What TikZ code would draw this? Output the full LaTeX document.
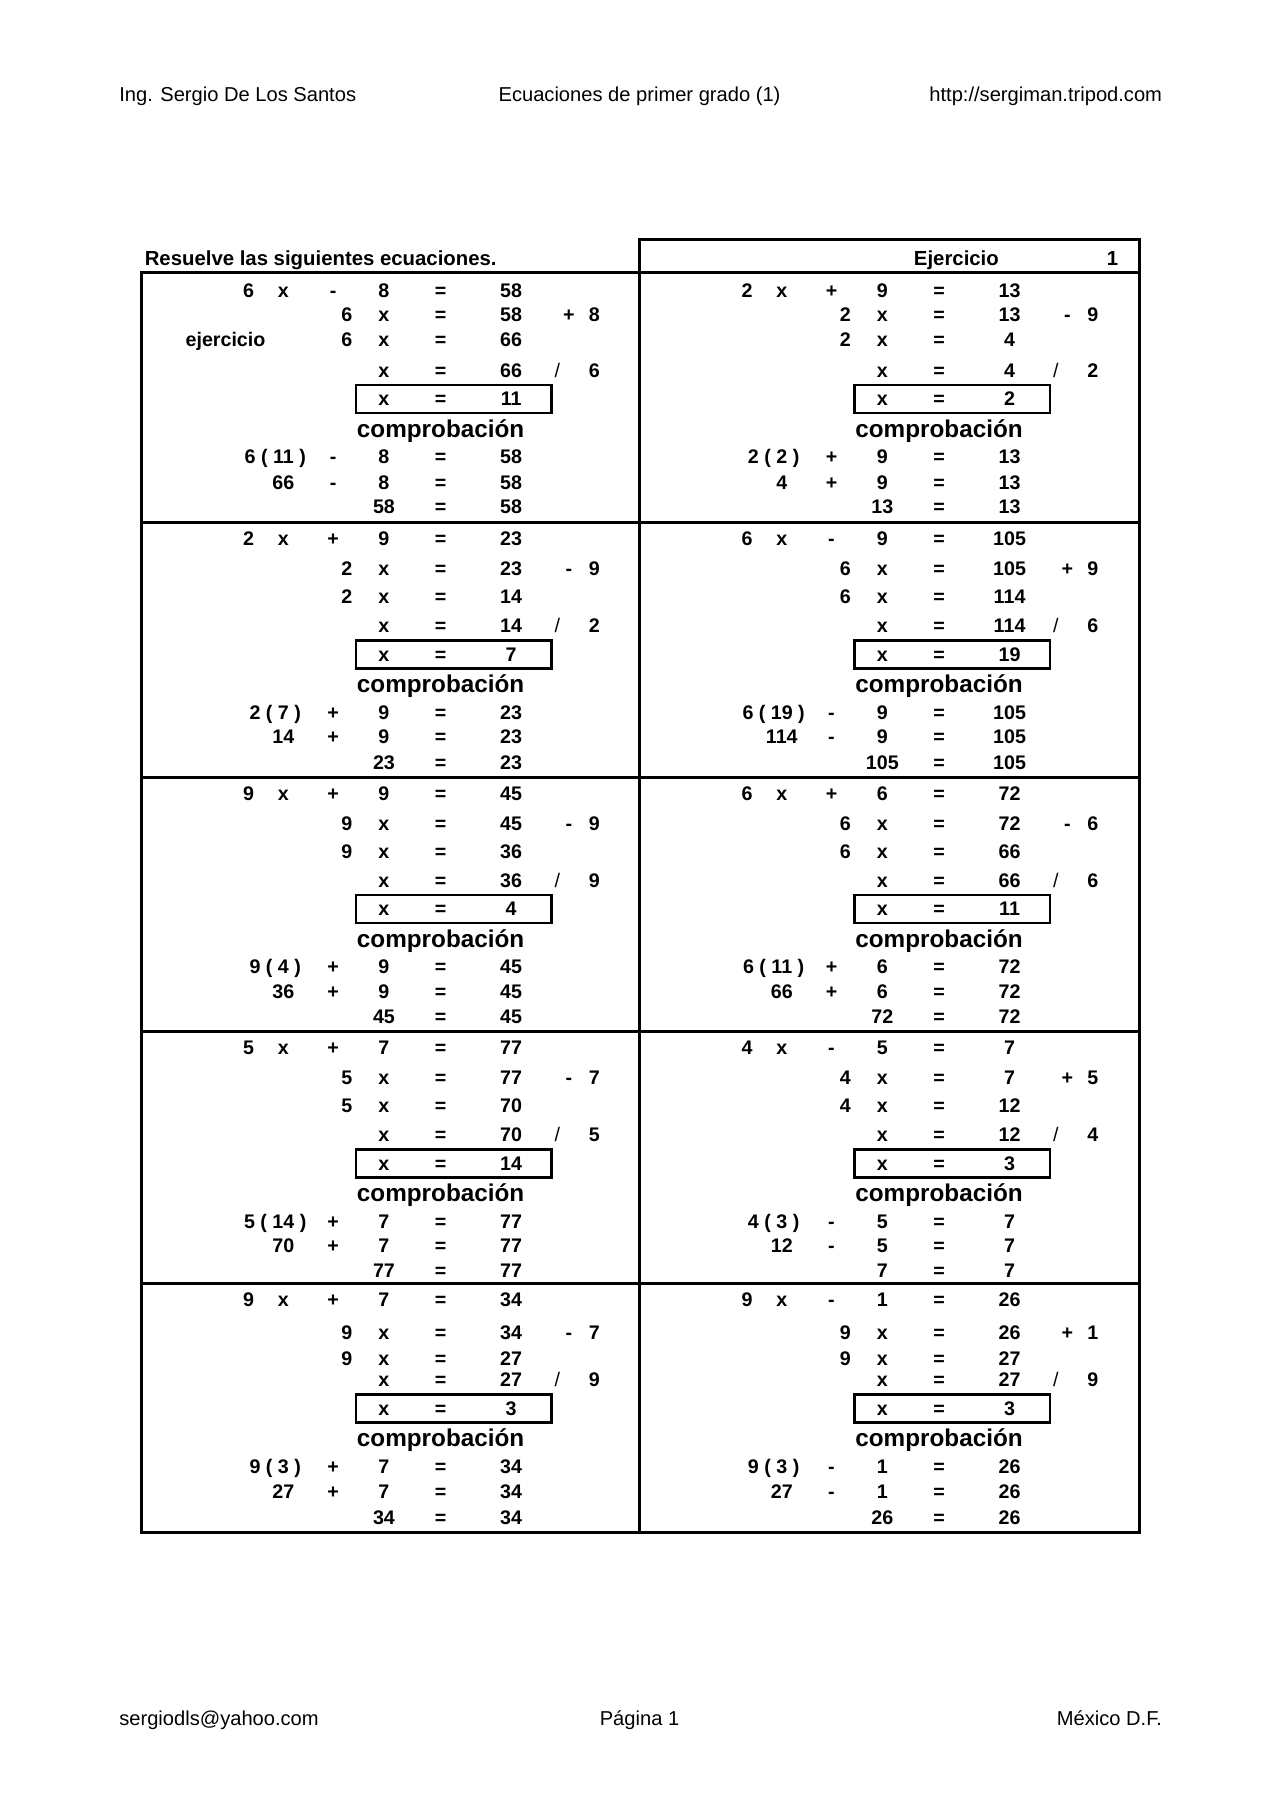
\documentclass[tikz,border=0pt]{standalone}
\usepackage{fontspec}
\setmainfont{Liberation Sans}
\usetikzlibrary{positioning}
\tikzset{
  eq/.style={font=\bfseries\fontsize{17}{17}\selectfont,anchor=base,inner sep=0pt},
  cmp/.style={font=\bfseries\fontsize{21}{21}\selectfont,anchor=base,inner sep=0pt},
  hdr/.style={font=\fontsize{17.4}{17.4}\selectfont,anchor=base,inner sep=0pt},
  grid line/.style={line width=2.6pt},
  answer/.style={draw,line width=2.2pt,minimum width=169pt,minimum height=24pt,inner sep=0pt}
}
% line offsets inside a row
\newcommand{\rowlines}[9]{\def\la{#1}\def\lb{#2}\def\lc{#3}\def\ld{#4}\def\le{#5}\def\lf{#6}\def\lg{#7}\def\lh{#8}\def\li{#9}}
% id, x0, y0, a, op, b, c, inverse op, d, s
\newcommand{\ejer}[9]{%
  \begin{scope}[shift={(#2)}]
    \node[eq] (#1a1) at (93,\la+6) {#3};
    \node[eq] (#1a2) at (123,\la+6) {x};
    \node[eq] (#1a3) at (166,\la+6) {#4};
    \node[eq] (#1a4) at (210,\la+6) {#5};
    \node[eq] (#1a5) at (259,\la+6) {=};
    \node[eq] (#1a6) at (320,\la+6) {#6};
    \node[eq] (#1b1) at (178,\lb+6) {#3};
    \node[eq] (#1b2) at (210,\lb+6) {x};
    \node[eq] (#1b3) at (259,\lb+6) {=};
    \node[eq] (#1b4) at (320,\lb+6) {#6};
    \node[eq] (#1b5) at (370,\lb+6) {#7};
    \node[eq] (#1b6) at (392,\lb+6) {#5};
    \node[eq] (#1c1) at (178,\lc+6) {#3};
    \node[eq] (#1c2) at (210,\lc+6) {x};
    \node[eq] (#1c3) at (259,\lc+6) {=};
    \node[eq] (#1c4) at (320,\lc+6) {#8};
    \node[eq] (#1d1) at (210,\ld+6) {x};
    \node[eq] (#1d2) at (259,\ld+6) {=};
    \node[eq] (#1d3) at (320,\ld+6) {#8};
    \node[eq,font=\fontsize{17}{17}\selectfont] (#1d4) at (360,\ld+6) {/};
    \node[eq] (#1d5) at (392,\ld+6) {#3};
    \node[answer] (#1box) at (270.5,\le) {};
    \node[eq] (#1e1) at (210,\le+6) {x};
    \node[eq] (#1e2) at (259,\le+6) {=};
    \node[eq] (#1e3) at (320,\le+6) {#9};
    \node[cmp] (#1f) at (259,\lf+7) {comprobación};
    \node[eq] (#1g1) at (116,\lg+6) {#3\ (\ #9\ )};
    \node[eq] (#1g2) at (166,\lg+6) {#4};
    \node[eq] (#1g3) at (210,\lg+6) {#5};
    \node[eq] (#1g4) at (259,\lg+6) {=};
    \node[eq] (#1g5) at (320,\lg+6) {#6};
    \node[eq] (#1h1) at (123,\lh+6) {#8};
    \node[eq] (#1h2) at (166,\lh+6) {#4};
    \node[eq] (#1h3) at (210,\lh+6) {#5};
    \node[eq] (#1h4) at (259,\lh+6) {=};
    \node[eq] (#1h5) at (320,\lh+6) {#6};
    \node[eq] (#1i1) at (210,\li+6) {#6};
    \node[eq] (#1i2) at (259,\li+6) {=};
    \node[eq] (#1i3) at (320,\li+6) {#6};
  \end{scope}}
\begin{document}
\begin{tikzpicture}[x=1pt,y=-1pt]
  \useasboundingbox (0,0) rectangle (1107,1566);
  % page header and footer
  \node[hdr,anchor=base west] (author) at (103,88) {Ing. Sergio De Los Santos};
  \node[hdr] (title) at (553,88) {Ecuaciones de primer grado (1)};
  \node[hdr,anchor=base east] (web) at (1005,88) {http://sergiman.tripod.com};
  \node[hdr,anchor=base west] (mail) at (103,1492) {sergiodls@yahoo.com};
  \node[hdr] (page) at (553,1492) {Página 1};
  \node[hdr,anchor=base east] (city) at (1005,1492) {México D.F.};
  % table
  \node[eq,font=\bfseries\fontsize{17.6}{17.6}\selectfont,anchor=base west] (task) at (125,230) {Resuelve las siguientes ecuaciones.};
  \node[eq,font=\bfseries\fontsize{17.6}{17.6}\selectfont] (ejt) at (827,230) {Ejercicio};
  \node[eq,font=\bfseries\fontsize{17.6}{17.6}\selectfont] (ejn) at (962,230) {1};
  \draw[grid line] (553,207) rectangle (985,1325);
  \draw[grid line] (122,236) rectangle (985,1325);
  \foreach \yy in {452,672,892,1110} \draw[grid line] (122,\yy) -- (985,\yy);
  \node[eq] (ejer) at (195,300) {ejercicio};
  % exercises
  \rowlines{15}{36}{58}{84}{109}{135}{159}{181}{202}
  \ejer{r1l}{122,236}{6}{-}{8}{58}{+}{66}{11}
  \ejer{r1r}{553,236}{2}{+}{9}{13}{-}{4}{2}
  \rowlines{14}{40}{64}{89}{114}{140}{164}{185}{207}
  \ejer{r2l}{122,452}{2}{+}{9}{23}{-}{14}{7}
  \ejer{r2r}{553,452}{6}{-}{9}{105}{+}{114}{19}
  \ejer{r3l}{122,672}{9}{+}{9}{45}{-}{36}{4}
  \ejer{r3r}{553,672}{6}{+}{6}{72}{-}{66}{11}
  \ejer{r4l}{122,892}{5}{+}{7}{77}{-}{70}{14}
  \ejer{r4r}{553,892}{4}{-}{5}{7}{+}{12}{3}
  \rowlines{14}{42}{65}{83}{108}{134}{158}{180}{202}
  \ejer{r5l}{122,1110}{9}{+}{7}{34}{-}{27}{3}
  \ejer{r5r}{553,1110}{9}{-}{1}{26}{+}{27}{3}
\end{tikzpicture}
\end{document}
